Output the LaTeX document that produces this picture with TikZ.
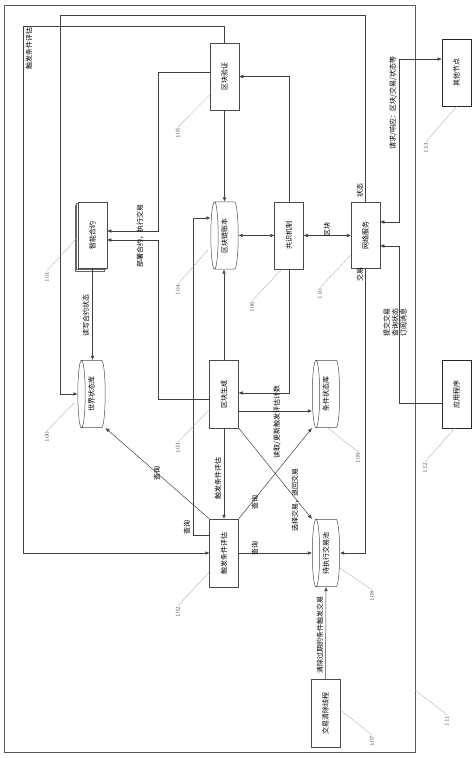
\documentclass[tikz,border=0pt]{standalone}
\usepackage{fontspec}
\newfontfamily\cjk{Noto Sans CJK SC}
\usepackage{graphicx}
\usetikzlibrary{arrows.meta}
\newcommand{\vt}[1]{\rotatebox{90}{#1}}
\tikzset{
  box/.style={draw=black!70, fill=white, line width=0.5pt, minimum width=29pt, minimum height=67pt, inner sep=0pt, font=\cjk\fontsize{7}{8}\selectfont},
  extbox/.style={box, draw=black!85, line width=0.8pt},
  store/.style={fill=white, minimum width=28pt, minimum height=68pt, inner sep=0pt, font=\cjk\fontsize{7}{8}\selectfont,
    path picture={
      \draw[draw=black!70, line width=0.5pt]
        ([xshift=4pt,yshift=-0.3pt]path picture bounding box.north west)
        -- ([xshift=-4pt,yshift=-0.3pt]path picture bounding box.north east)
        arc[start angle=90, end angle=-90, x radius=3.7pt, y radius=33.7pt]
        -- ([xshift=4pt,yshift=0.3pt]path picture bounding box.south west)
        arc[start angle=270, end angle=90, x radius=3.7pt, y radius=33.7pt]
        arc[start angle=90, end angle=-90, x radius=3.7pt, y radius=33.7pt];
    }},
  docback/.style={draw=black!60, fill=white, line width=0.4pt},
  arr/.style={draw=black!75, line width=0.5pt, -{Triangle[length=4pt,width=3.2pt]}},
  biarr/.style={arr, {Triangle[length=4pt,width=3.2pt]}-{Triangle[length=4pt,width=3.2pt]}},
  lab/.style={font=\cjk\fontsize{7}{8}\selectfont, inner sep=0pt},
  num/.style={font=\fontsize{6}{7}\selectfont, text=black!65, inner sep=0.5pt},
  leader/.style={draw=black!35, line width=0.3pt}
}

\begin{document}
\begin{tikzpicture}[x=1pt,y=-1pt]
\useasboundingbox (0,0) rectangle (474,758);

% Outer frame
\draw[draw=black!65, line width=0.8pt] (4,5) rectangle (415,752);

% Smart contract (stacked documents)
\draw[docback] (75,205) rectangle (104,271);
\draw[docback] (76.5,203.5) rectangle (105.5,269.5);
\node[box, minimum height=66pt] (contract) at (92.5,235) {\vt{智能合约}};

% Blocks and stores
\node[box] (verify) at (224.5,76.5) {\vt{区块验证}};
\node[store] (ledger) at (224.5,235.5) {\vt{区块链账本}};
\node[box] (consensus) at (289,235.5) {\vt{共识机制}};
\node[box, minimum height=66pt] (network) at (365.5,235) {\vt{网络服务}};
\node[extbox] (others) at (456.5,72.5) {\vt{其他节点}};
\node[extbox, minimum height=68pt] (app) at (456.5,394) {\vt{应用程序}};
\node[store] (world) at (91.5,394) {\vt{世界状态库}};
\node[box, minimum height=68pt] (gen) at (224,394) {\vt{区块生成}};
\node[store] (cond) at (326,394) {\vt{条件状态库}};
\node[box, minimum height=68pt] (eval) at (224,553) {\vt{触发条件评估}};
\node[store] (pool) at (326,553) {\vt{待执行交易池}};
\node[box, minimum height=68pt] (clean) at (325.5,713) {\vt{交易清除线程}};

% Long loops round the top
\draw[arr] (network.north) |- (60,15) |- (world.west);
\node[lab] at (360,190) {\vt{状态}};
\draw[arr] (network.south) |- (pool.east);
\node[lab] at (360,274) {\vt{交易}};
\draw[arr] (verify.north) |- (23,26) |- (eval.west);
\node[lab] at (29,48) {\vt{触发条件评估}};

% Into the smart contract
\draw[arr] (verify.west |- 0,72) -| (158,231) -- (contract.east |- 0,231);
\draw[arr] (gen.west |- 0,399) -| (158,240) -- (contract.east |- 0,240);
\node[lab] at (140,236) {\vt{部署合约，执行交易}};
\draw[arr] (contract.south) -- (contract.south |- world.north);
\node[lab] at (86,315) {\vt{读写合约状态}};

% Ledger, consensus, network
\draw[arr] (verify.south) -- (ledger.north);
\draw[arr] (consensus.north) |- (verify.east);
\draw[biarr] (ledger.east) -- (consensus.west);
\draw[biarr] (consensus.east) -- (network.west |- consensus.east);
\node[lab] at (327,229) {\vt{区块}};
\draw[biarr] (network.east |- 0,222) -| (399,59) -- (others.west |- 0,59);
\node[lab] at (393,103) {\vt{请求/响应：区块/交易/状态等}};
\draw[arr] (app.west |- 0,403) -| (399,246) -- (network.east |- 0,246);
\node[lab] at (396,322) {\vt{\begin{tabular}{@{}l@{}}提交交易\\查询状态\\订阅消息\end{tabular}}};

% Block generation
\draw[arr] (gen.north) -- (gen.north |- ledger.south);
\draw[arr] (consensus.south) |- (gen.east |- 0,393);
\draw[arr] (gen.east |- 0,411) -- (cond.west |- 0,411);
\node[lab] at (277,422) {\vt{读取/更新触发评估计数}};
\draw[arr] (gen.south) -- (eval.north);
\node[lab] at (218,478) {\vt{触发条件评估}};
\draw[arr] (gen.south east) -- (pool.north west);
\node[lab] at (295,500) {\vt{选择交易，退回交易}};

% Trigger evaluation queries
\draw[arr] (eval.west |- 0,535) -| (193,218) -- (ledger.west |- 0,218);
\node[lab] at (187,527) {\vt{查询}};
\draw[arr] (eval.north west) -- (world.south east);
\node[lab] at (157,473) {\vt{查询}};
\draw[arr] (eval.north east) -- (cond.south west);
\node[lab] at (255,502) {\vt{查询}};
\draw[arr] (eval.east) -- (pool.west);
\node[lab] at (255,548) {\vt{查询}};

% Cleaning thread
\draw[arr] (clean.north) -- (pool.south);
\node[lab] at (320,635) {\vt{清除过期的条件触发交易}};

% Reference numbers
\node[num] (n100) at (47,437) {\vt{100}};
\node[num] (n101) at (47,277) {\vt{101}};
\node[num] (n102) at (178,612) {\vt{102}};
\node[num] (n103) at (178,448) {\vt{103}};
\node[num] (n104) at (178,290) {\vt{104}};
\node[num] (n105) at (178,133) {\vt{105}};
\node[num] (n106) at (252,307) {\vt{106}};
\node[num] (n107) at (372,741) {\vt{107}};
\node[num] (n108) at (372,596) {\vt{108}};
\node[num] (n109) at (358,458) {\vt{109}};
\node[num] (n110) at (320,294) {\vt{110}};
\node[num] (n111) at (447,721) {\vt{111}};
\node[num] (n112) at (425,468) {\vt{112}};
\node[num] (n113) at (426,148) {\vt{113}};
\draw[leader] (n100.north) -- (75,402);
\draw[leader] (n101.north) -- (contract.west |- 0,237);
\draw[leader] (n102.north) -- (eval.west |- 0,572);
\draw[leader] (n103.north) -- (gen.west |- 0,410);
\draw[leader] (n104.north) -- (208,250);
\draw[leader] (n105.north) -- (verify.west |- 0,95);
\draw[leader] (n106.north) -- (282,269);
\draw[leader] (n107.north) -- (clean.east |- 0,710);
\draw[leader] (n108.north) -- (340,568);
\draw[leader] (n109.north) -- (328,428);
\draw[leader] (n110.north) -- (network.west |- 0,255);
\draw[leader] (n111.north) -- (415,690);
\draw[leader] (n112.north) -- (455,428);
\draw[leader] (n113.north) -- (457,106);
\end{tikzpicture}
\end{document}
